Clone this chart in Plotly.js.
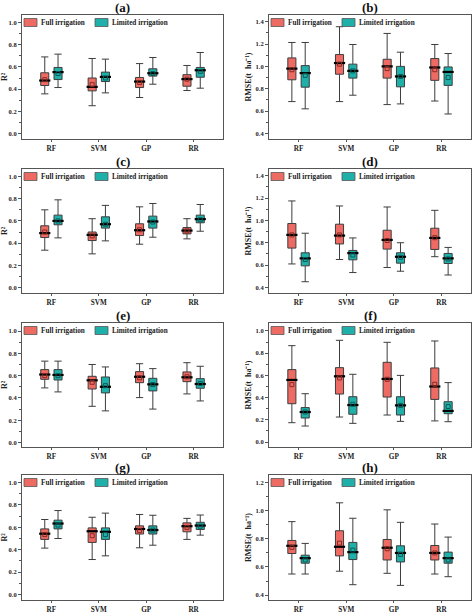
<!DOCTYPE html>
<html>
<head>
<meta charset="utf-8">
<script src="https://cdn.plot.ly/plotly-3.0.1.min.js"></script>
<style>html,body{margin:0;padding:0;background:#fff}#chart{width:474px;height:614px}</style>
</head>
<body>
<div id="chart"></div>
<script>
// Categories (models)
const categories = ['RF', 'SVM', 'GP', 'RR'];
const seriesNames = ['Full irrigation', 'Limited irrigation'];
const panelLabels = ['(a)', '(b)', '(c)', '(d)', '(e)', '(f)', '(g)', '(h)'];

// Each row: [lower whisker, Q1, median, Q3, upper whisker, mean] for RF, SVM, GP, RR
const A_FULL = [[0.357,0.432,0.477,0.547,0.690,0.485],[0.250,0.384,0.420,0.500,0.676,0.440],[0.324,0.414,0.468,0.505,0.630,0.460],[0.387,0.426,0.490,0.530,0.613,0.490]];
const A_LIM  = [[0.414,0.486,0.553,0.595,0.715,0.540],[0.366,0.468,0.510,0.553,0.670,0.500],[0.444,0.517,0.543,0.583,0.685,0.540],[0.408,0.507,0.570,0.595,0.730,0.560]];
const B_FULL = [[0.685,0.880,0.980,1.076,1.214,0.970],[0.685,0.930,1.030,1.106,1.355,1.020],[0.658,0.895,1.000,1.064,1.295,0.980],[0.690,0.875,0.990,1.070,1.196,0.970]];
const B_LIM  = [[0.620,0.814,0.940,1.007,1.214,0.920],[0.742,0.895,0.960,1.020,1.196,0.960],[0.664,0.817,0.910,1.000,1.127,0.910],[0.574,0.830,0.950,0.995,1.115,0.900]];
const C_FULL = [[0.336,0.450,0.490,0.556,0.700,0.500],[0.303,0.423,0.474,0.500,0.620,0.465],[0.390,0.468,0.516,0.574,0.727,0.520],[0.438,0.483,0.513,0.540,0.620,0.510]];
const C_LIM  = [[0.447,0.565,0.600,0.652,0.790,0.600],[0.420,0.535,0.570,0.637,0.740,0.570],[0.453,0.535,0.595,0.643,0.757,0.590],[0.507,0.583,0.616,0.652,0.748,0.610]];
const D_FULL = [[0.610,0.752,0.870,0.972,1.174,0.870],[0.650,0.789,0.864,0.966,1.129,0.870],[0.578,0.743,0.825,0.912,1.120,0.820],[0.675,0.740,0.843,0.930,1.090,0.845]];
const D_LIM  = [[0.451,0.593,0.660,0.710,0.885,0.650],[0.533,0.647,0.707,0.731,0.843,0.690],[0.545,0.617,0.674,0.710,0.800,0.670],[0.511,0.614,0.660,0.704,0.758,0.655]];
const E_FULL = [[0.490,0.567,0.610,0.654,0.730,0.600],[0.325,0.480,0.558,0.594,0.700,0.540],[0.403,0.537,0.590,0.636,0.707,0.580],[0.436,0.546,0.585,0.633,0.716,0.590]];
const E_LIM  = [[0.454,0.561,0.606,0.654,0.730,0.600],[0.284,0.445,0.500,0.588,0.678,0.510],[0.300,0.463,0.522,0.576,0.663,0.520],[0.373,0.487,0.525,0.573,0.684,0.530]];
const F_FULL = [[0.174,0.345,0.559,0.652,0.868,0.517],[0.225,0.432,0.592,0.670,0.916,0.577],[0.243,0.405,0.568,0.718,0.898,0.565],[0.190,0.384,0.500,0.667,0.910,0.520]];
const F_LIM  = [[0.144,0.216,0.270,0.310,0.435,0.270],[0.168,0.250,0.333,0.408,0.610,0.340],[0.186,0.243,0.330,0.408,0.600,0.330],[0.183,0.255,0.280,0.363,0.535,0.320]];
const G_FULL = [[0.414,0.492,0.543,0.586,0.670,0.535],[0.312,0.465,0.565,0.595,0.690,0.525],[0.417,0.540,0.585,0.613,0.715,0.570],[0.492,0.560,0.610,0.640,0.680,0.600]];
const G_LIM  = [[0.500,0.586,0.634,0.664,0.750,0.620],[0.345,0.492,0.560,0.595,0.727,0.535],[0.440,0.540,0.576,0.613,0.708,0.575],[0.530,0.580,0.616,0.645,0.710,0.610]];
const H_FULL = [[0.550,0.696,0.751,0.789,0.923,0.740],[0.570,0.679,0.744,0.858,1.057,0.770],[0.555,0.650,0.737,0.796,1.007,0.730],[0.550,0.650,0.700,0.753,0.906,0.700]];
const H_LIM  = [[0.550,0.627,0.663,0.684,0.768,0.650],[0.474,0.653,0.706,0.775,0.947,0.720],[0.469,0.636,0.700,0.751,0.918,0.690],[0.531,0.627,0.663,0.706,0.813,0.650]];

const panelData = [[A_FULL, A_LIM], [B_FULL, B_LIM], [C_FULL, C_LIM], [D_FULL, D_LIM],
                   [E_FULL, E_LIM], [F_FULL, F_LIM], [G_FULL, G_LIM], [H_FULL, H_LIM]];

// Styling / layout parameters
const FONT = 'Liberation Serif';
const fillColors = ['#EE6B63', '#1FB0AA'];
const meanColors = ['#8a2a24', '#0b5c58'];
const OFF = 0.14, BW = 0.17;
const xDomains = [[22/474, 223/474], [269/474, 471/474]];
const rowPx = [[15, 139], [169, 293], [323, 447], [475, 600]];
const yRanges = [[-0.05, 1.068], [0.35, 1.46], [-0.05, 1.068], [0.35, 1.46],
                 [-0.04, 1.072], [-0.045, 1.072], [-0.05, 1.068], [0.365, 1.255]];
const yTitles = ['R\u00B2', 'RMSE(t  ha\u207B\u00B9)'];

const traces = [];
const layout = {
  width: 474, height: 614,
  margin: {l: 0, r: 0, t: 0, b: 0},
  paper_bgcolor: '#fff', plot_bgcolor: '#fff',
  showlegend: false, boxmode: 'overlay',
  font: {family: FONT, weight: 'bold', color: '#222'},
  shapes: [], annotations: []
};

panelData.forEach((pair, i) => {
  const row = Math.floor(i / 2), col = i % 2;
  const sfx = i === 0 ? '' : String(i + 1);
  const xa = 'x' + sfx, ya = 'y' + sfx;
  pair.forEach((rows, s) => {
    const xs = categories.map((_, j) => j + (s === 0 ? -OFF : OFF));
    traces.push({
      type: 'box', name: seriesNames[s], xaxis: xa, yaxis: ya,
      x: xs,
      lowerfence: rows.map(r => r[0]), q1: rows.map(r => r[1]), median: rows.map(r => r[2]),
      q3: rows.map(r => r[3]), upperfence: rows.map(r => r[4]),
      width: BW, whiskerwidth: 0.9, boxpoints: false,
      fillcolor: fillColors[s], line: {color: '#3d3d3d', width: 1},
      hoverinfo: 'skip'
    });
    traces.push({
      type: 'scatter', mode: 'markers', xaxis: xa, yaxis: ya, x: xs, y: rows.map(r => r[2]),
      marker: {symbol: 'line-ew', size: 8, line: {color: '#000', width: 2.2}}, hoverinfo: 'skip'
    });
    traces.push({
      type: 'scatter', mode: 'markers', xaxis: xa, yaxis: ya, x: xs, y: rows.map(r => r[5]),
      marker: {symbol: 'square-open', size: 4, color: meanColors[s], line: {color: meanColors[s], width: 1}}, hoverinfo: 'skip'
    });
  });
  const yd = [1 - rowPx[row][1] / 614, 1 - rowPx[row][0] / 614];
  layout['xaxis' + sfx] = {
    domain: xDomains[col], anchor: ya, range: [-0.62, 3.62],
    tickvals: categories.map((_, j) => j), ticktext: categories,
    ticks: 'outside', ticklen: 2, tickcolor: '#555', tickwidth: 1,
    showline: true, mirror: true, linecolor: '#555', linewidth: 1,
    showgrid: false, zeroline: false, fixedrange: true,
    tickfont: {family: FONT, size: 7.2, weight: 'bold', color: '#222'}
  };
  layout['yaxis' + sfx] = {
    domain: yd, anchor: xa, range: yRanges[i], dtick: 0.2, tick0: 0, tickformat: '.1f',
    ticks: 'outside', ticklen: 3, tickcolor: '#555', tickwidth: 1,
    minor: {dtick: 0.1, ticks: 'outside', ticklen: 2, tickcolor: '#555'},
    showline: true, mirror: true, linecolor: '#555', linewidth: 1,
    showgrid: false, zeroline: false, fixedrange: true,
    tickfont: {family: FONT, size: 6.5, weight: 'bold', color: '#222'},
    title: {text: yTitles[col], font: {family: FONT, size: 8, weight: 'bold', color: '#222'}, standoff: 2}
  };
  // panel label
  layout.annotations.push({
    text: panelLabels[i], xref: xa + ' domain', yref: ya + ' domain', x: 0.5, y: 1,
    yshift: 8, xanchor: 'center', yanchor: 'middle', showarrow: false,
    font: {family: FONT, size: 13, weight: 'bold', color: '#111'}
  });
  // in-panel legend
  [[2, 17], [73, 88]].forEach((p, s) => {
    layout.shapes.push({
      type: 'rect', xref: xa + ' domain', yref: ya + ' domain',
      xsizemode: 'pixel', ysizemode: 'pixel', xanchor: 0, yanchor: 1,
      x0: p[0], x1: p[0] + 13, y0: -3.5, y1: -11.5,
      fillcolor: fillColors[s], line: {color: '#555', width: 0.8}
    });
    layout.annotations.push({
      text: seriesNames[s], xref: xa + ' domain', yref: ya + ' domain', x: 0, y: 1,
      xshift: p[1], yshift: -7.5, xanchor: 'left', yanchor: 'middle', showarrow: false,
      font: {family: FONT, size: 7.2, weight: 'bold', color: '#222'}
    });
  });
});

Plotly.newPlot('chart', traces, layout, {staticPlot: true, displayModeBar: false});
</script>
</body>
</html>
